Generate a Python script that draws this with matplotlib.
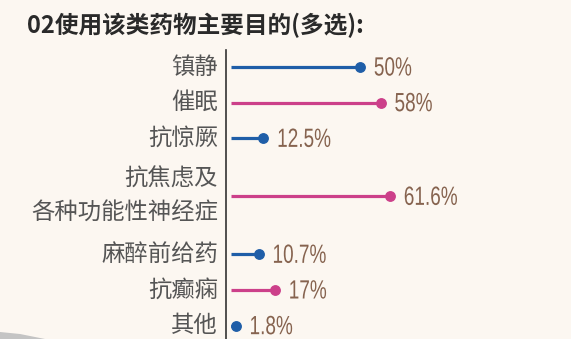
import matplotlib
matplotlib.use('Agg')
import matplotlib.pyplot as plt
from matplotlib.patches import Polygon
from matplotlib.patheffects import AbstractPathEffect
from matplotlib.transforms import Affine2D

# ── 数据 ────────────────────────────────────────────────
labels = ['镇静', '催眠', '抗惊厥', '抗焦虑及\n各种功能性神经症', '麻醉前给药', '抗癫痫', '其他']
values = [50, 58, 12.5, 61.6, 10.7, 17, 1.8]
value_text = ['50%', '58%', '12.5%', '61.6%', '10.7%', '17%', '1.8%']
title = '02使用该类药物主要目的(多选):'

BG = '#fcf7f1'
BLUE, PINK = '#1f5ea8', '#cc408a'
colors = [BLUE, PINK, BLUE, PINK, BLUE, PINK, BLUE]
CJK = ['Noto Sans CJK SC', 'DejaVu Sans']


class Narrow(AbstractPathEffect):
    """数字用窄体：把字形横向压缩（左对齐时原点不动）"""
    def __init__(self, sx=0.8):
        super().__init__()
        self.sx = sx

    def draw_path(self, renderer, gc, tpath, affine, rgbFace=None):
        renderer.draw_path(gc, tpath, Affine2D().scale(self.sx, 1) + affine, rgbFace)


# 行高：两行标签占更多空间
heights = [2.25 if '\n' in s else 1.0 for s in labels]
ypos, y = [], 0.0
for i, h in enumerate(heights):
    if i:
        y += (heights[i - 1] + h) / 2
    ypos.append(y)

fig = plt.figure(figsize=(5.71, 3.39), dpi=100, facecolor=BG)
ax = fig.add_axes([226 / 571, 0, 1 - 226 / 571, 289 / 339])
ax.set_facecolor(BG)

for yp, v, c, t in zip(ypos, values, colors, value_text):
    ax.plot([0, v], [yp, yp], color=c, lw=2.3, solid_capstyle='butt', zorder=2)
    ax.plot(v, yp, 'o', color=c, ms=6.8, zorder=3)
    ax.annotate(t, (v, yp), xytext=(10, -1), textcoords='offset points',
                ha='left', va='center', fontsize=19, color='#86634f',
                family='Liberation Sans', path_effects=[Narrow(0.72)])

for yp, s in zip(ypos, labels):
    ax.text(-5.0, yp, s, ha='right', va='center', fontsize=16.8, color='#555555',
            family=CJK, fontweight='light', linespacing=1.6, clip_on=False)

ax.set_xlim(-1.94, 131.8)
ax.set_ylim(ypos[-1] + 0.37, -0.48)
for sp in ('top', 'right', 'bottom'):
    ax.spines[sp].set_visible(False)
ax.spines['left'].set_color('#333333')
ax.spines['left'].set_linewidth(1.2)
ax.set_xticks([])
ax.set_yticks([])

fig.text(27 / 571, 1 - 25 / 339, title, ha='left', va='center', fontsize=17,
         fontweight='heavy', color='#2a2a2a', family=CJK)

# 左下角灰色装饰
fig.patches.append(Polygon([[0, 0], [0, 7 / 339], [20 / 571, 5 / 339], [45 / 571, 0]],
                           closed=True, transform=fig.transFigure,
                           facecolor='#c4c4c4', edgecolor='none'))

fig.savefig('out.png', dpi=100, facecolor=BG)
